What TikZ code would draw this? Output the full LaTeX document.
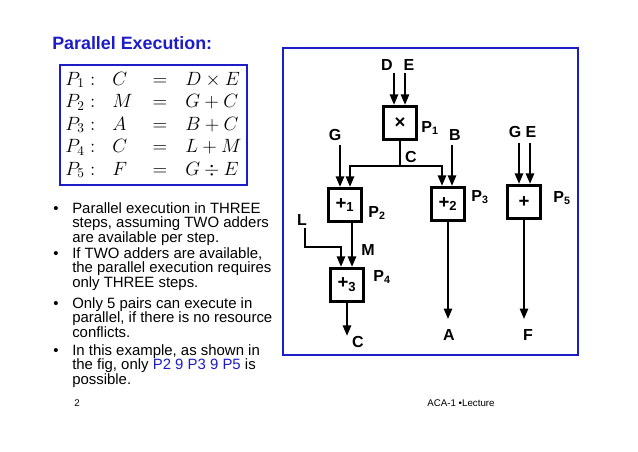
\documentclass[tikz,border=0pt]{standalone}
\usepackage{amsmath}
\usepackage{fontspec}
\setmainfont{Liberation Sans}
\usetikzlibrary{arrows.meta,calc}
\definecolor{slide_blue}{HTML}{1C1CC8}

\begin{document}
\begin{tikzpicture}[x=0.75pt,y=-0.75pt,
    opbox/.style={draw,line width=1.9pt,minimum size=25pt,inner sep=0pt,
                  font=\bfseries\fontsize{14}{14}\selectfont},
    lbl/.style={inner sep=0pt,font=\bfseries\fontsize{12}{12}\selectfont},
    wire/.style={line width=1.9pt},
    arr/.style={line width=1.9pt,-{Triangle[length=8pt,width=6pt]}},
    bul/.style={inner sep=0pt,anchor=north west,align=left,
                font=\fontsize{11.2}{11}\selectfont},
    dot/.style={inner sep=0pt,anchor=base west,font=\fontsize{11.2}{11}\selectfont},
    eq/.style={inner sep=0pt,font=\fontsize{14}{14}\selectfont}]
    \fill[white] (0,0) rectangle (638,451);
    \useasboundingbox (0,0) rectangle (638,451);

    \node[anchor=west,inner sep=0pt,text=slide_blue,
          font=\bfseries\fontsize{13.4}{14}\selectfont] (title) at (52,43) {Parallel Execution:};

    \draw[slide_blue,line width=1.5pt] (60,65) rectangle (247,185);
    \foreach \i/\lhs/\rhs in {1/C/D\times E,2/M/G+C,3/A/B+C,4/C/L+M,5/F/G\div E}{
        \node[eq,anchor=base west] (eqp\i) at (65,{85+(\i-1)*22.5}) {$P_{\i}:$};
        \node[eq,anchor=base west] (eql\i) at (112,{85+(\i-1)*22.5}) {$\lhs$};
        \node[eq,anchor=base] (eqe\i) at (160,{85+(\i-1)*22.5}) {$=$};
        \node[eq,anchor=base west] (eqr\i) at (185,{85+(\i-1)*22.5}) {$\rhs$};
    }

    \node[dot] (d1) at (53,213) {•};
    \node[bul] (b1) at (72,202) {Parallel execution in THREE\\steps, assuming TWO adders\\are available per step.};
    \node[dot] (d2) at (53,258) {•};
    \node[bul] (b2) at (72,247) {If TWO adders are available,\\the parallel execution requires\\only THREE steps.};
    \node[dot] (d3) at (53,308) {•};
    \node[bul] (b3) at (72,297) {Only 5 pairs can execute in\\parallel, if there is no resource\\conflicts.};
    \node[dot] (d4) at (53,355) {•};
    \node[bul] (b4) at (72,344) {In this example, as shown in\\the fig, only \textcolor{slide_blue}{P2 9 P3 9 P5} is\\possible.};

    \draw[slide_blue,line width=1.5pt] (283,48) rectangle (578,355);

    \node[opbox] (p1) at (400,123) {×};
    \node[opbox] (p2) at (345,205) {+\textsubscript{1}};
    \node[opbox] (p3) at (448,204) {+\textsubscript{2}};
    \node[opbox] (p4) at (347,285) {+\textsubscript{3}};
    \node[opbox] (p5) at (524,202) {+};

    \node[lbl] (np1) at (430,128) {P\textsubscript{1}};
    \node[lbl] (np2) at (377,213) {P\textsubscript{2}};
    \node[lbl] (np3) at (480,197) {P\textsubscript{3}};
    \node[lbl] (np4) at (382,277) {P\textsubscript{4}};
    \node[lbl] (np5) at (562,198) {P\textsubscript{5}};

    \node[lbl] (lD) at (387,65) {D};
    \node[lbl] (lE) at (409,65) {E};
    \node[lbl] (lG) at (335,135) {G};
    \node[lbl] (lB) at (455,135) {B};
    \node[lbl] (lGb) at (515,132) {G};
    \node[lbl] (lEb) at (531,132) {E};
    \node[lbl] (lC) at (411,157) {C};
    \node[lbl] (lM) at (368,250) {M};
    \node[lbl] (lL) at (302,220) {L};
    \node[lbl] (lCo) at (358,342) {C};
    \node[lbl] (lA) at (449,335) {A};
    \node[lbl] (lF) at (528,335) {F};

    \draw[arr] ($(lD.south)+(7,2)$) -- ($(p1.north)+(-6,0)$);
    \draw[arr] ($(lE.south)+(-4,2)$) -- ($(p1.north)+(5,0)$);
    \draw[arr] ($(lG.south)+(5,4)$) -- ($(p2.north)+(-5,0)$);
    \draw[arr] ($(lB.south)+(-3,4)$) -- ($(p3.north)+(4,0)$);
    \draw[arr] ($(lGb.south)+(4,5)$) -- ($(p5.north)+(-5,0)$);
    \draw[arr] ($(lEb.south)+(-1,5)$) -- ($(p5.north)+(6,0)$);

    \coordinate (cj) at ($(p1.south)+(0,25)$);
    \draw[wire] (p1.south) -- (cj);
    \draw[arr] (cj) -| ($(p2.north)+(5,0)$);
    \draw[arr] (cj) -| ($(p3.north)+(-6,0)$);
    \draw[arr] ($(p2.south)+(7,0)$) -- ($(p4.north)+(5,0)$);
    \draw[arr] ($(lL.south)+(3,2)$) |- ($(p4.north)+(-6,-20)$) -- ($(p4.north)+(-6,0)$);

    \draw[arr] (p4.south) -- (p4.south |- lCo.north);
    \draw[arr] (p3.south) -- ($(p3.south |- lA.north)+(0,-10)$);
    \draw[arr] (p5.south) -- ($(p5.south |- lF.north)+(0,-10)$);

    \node[inner sep=0pt,font=\fontsize{7.3}{8}\selectfont] (pg) at (77,403) {2};
    \node[inner sep=0pt,font=\fontsize{7.3}{8}\selectfont] (ft) at (461,403) {ACA-1 •Lecture};
\end{tikzpicture}
\end{document}
